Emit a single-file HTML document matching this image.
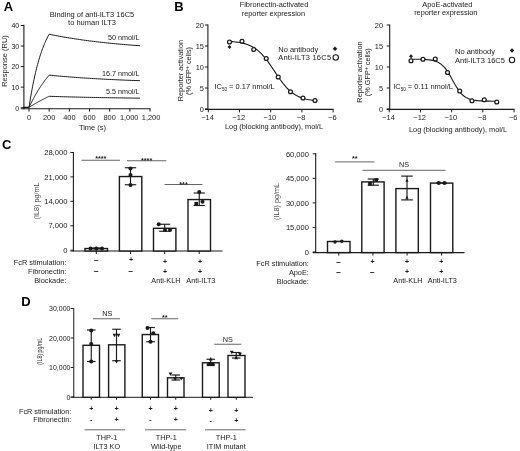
<!DOCTYPE html>
<html><head><meta charset="utf-8"><title>Figure</title>
<style>
html,body{margin:0;padding:0;background:#fff;}
svg{display:block;font-family:"Liberation Sans",Arial,sans-serif;}
</style></head><body>
<svg width="520" height="451" viewBox="0 0 520 451">
<rect x="0" y="0" width="520" height="451" fill="#fff"/>
<text x="3.80" y="11.20" font-size="13" text-anchor="start" fill="#000" font-weight="bold">A</text>
<text x="174.20" y="11.10" font-size="13" text-anchor="start" fill="#000" font-weight="bold">B</text>
<text x="2.10" y="148.70" font-size="13" text-anchor="start" fill="#000" font-weight="bold">C</text>
<text x="21.20" y="305.90" font-size="13" text-anchor="start" fill="#000" font-weight="bold">D</text>
<line x1="23.90" y1="24.80" x2="23.90" y2="109.30" stroke="#1a1a1a" stroke-width="1.1"/>
<line x1="20.80" y1="108.80" x2="150.50" y2="108.80" stroke="#1a1a1a" stroke-width="1.1"/>
<line x1="20.80" y1="107.70" x2="23.90" y2="107.70" stroke="#1a1a1a" stroke-width="1"/>
<text x="19.20" y="110.50" font-size="7" text-anchor="end" fill="#1a1a1a" >0</text>
<line x1="20.80" y1="87.15" x2="23.90" y2="87.15" stroke="#1a1a1a" stroke-width="1"/>
<text x="19.20" y="89.95" font-size="7" text-anchor="end" fill="#1a1a1a" >10</text>
<line x1="20.80" y1="66.60" x2="23.90" y2="66.60" stroke="#1a1a1a" stroke-width="1"/>
<text x="19.20" y="69.40" font-size="7" text-anchor="end" fill="#1a1a1a" >20</text>
<line x1="20.80" y1="46.05" x2="23.90" y2="46.05" stroke="#1a1a1a" stroke-width="1"/>
<text x="19.20" y="48.85" font-size="7" text-anchor="end" fill="#1a1a1a" >30</text>
<line x1="20.80" y1="25.50" x2="23.90" y2="25.50" stroke="#1a1a1a" stroke-width="1"/>
<text x="19.20" y="28.30" font-size="7" text-anchor="end" fill="#1a1a1a" >40</text>
<line x1="29.00" y1="108.80" x2="29.00" y2="111.60" stroke="#1a1a1a" stroke-width="1"/>
<text x="29.00" y="120.10" font-size="7.4" text-anchor="middle" fill="#1a1a1a" >0</text>
<line x1="49.17" y1="108.80" x2="49.17" y2="111.60" stroke="#1a1a1a" stroke-width="1"/>
<text x="49.17" y="120.10" font-size="7.4" text-anchor="middle" fill="#1a1a1a" >200</text>
<line x1="69.34" y1="108.80" x2="69.34" y2="111.60" stroke="#1a1a1a" stroke-width="1"/>
<text x="69.34" y="120.10" font-size="7.4" text-anchor="middle" fill="#1a1a1a" >400</text>
<line x1="89.51" y1="108.80" x2="89.51" y2="111.60" stroke="#1a1a1a" stroke-width="1"/>
<text x="89.51" y="120.10" font-size="7.4" text-anchor="middle" fill="#1a1a1a" >600</text>
<line x1="109.68" y1="108.80" x2="109.68" y2="111.60" stroke="#1a1a1a" stroke-width="1"/>
<text x="109.68" y="120.10" font-size="7.4" text-anchor="middle" fill="#1a1a1a" >800</text>
<line x1="129.85" y1="108.80" x2="129.85" y2="111.60" stroke="#1a1a1a" stroke-width="1"/>
<text x="129.15" y="120.10" font-size="7.4" text-anchor="middle" fill="#1a1a1a" >1,000</text>
<line x1="150.02" y1="108.80" x2="150.02" y2="111.60" stroke="#1a1a1a" stroke-width="1"/>
<text x="151.02" y="120.10" font-size="7.4" text-anchor="middle" fill="#1a1a1a" >1,200</text>
<text x="92.50" y="130.00" font-size="7.5" text-anchor="middle" fill="#1a1a1a" >Time (s)</text>
<text transform="translate(7.40,61.00) rotate(-90)" font-size="7.5" text-anchor="middle" fill="#1a1a1a">Response (RU)</text>
<text x="92.00" y="16.70" font-size="7.5" text-anchor="middle" fill="#1a1a1a" >Binding of anti-ILT3 16C5</text>
<text x="92.00" y="24.80" font-size="7.5" text-anchor="middle" fill="#1a1a1a" >to human ILT3</text>
<polyline fill="none" stroke="#1a1a1a" stroke-width="1" stroke-linejoin="round" points="23.45,107.40 29.00,107.40 29.50,104.16 30.01,101.02 30.51,97.99 31.02,95.06 31.52,92.22 32.03,89.47 32.53,86.81 33.03,84.24 33.54,81.75 34.04,79.34 34.55,77.01 35.05,74.76 35.56,72.58 36.06,70.47 36.56,68.43 37.07,66.45 37.57,64.54 38.08,62.69 38.58,60.90 39.09,59.17 39.59,57.49 40.09,55.87 40.60,54.31 41.10,52.79 41.61,51.32 42.11,49.90 42.61,48.53 43.12,47.20 43.62,45.91 44.13,44.67 44.63,43.46 45.14,42.30 45.64,41.17 46.14,40.08 46.65,39.03 47.15,38.00 47.66,37.02 48.16,36.06 48.67,35.14 49.17,34.24 51.19,34.66 53.20,35.06 55.22,35.45 57.24,35.84 59.26,36.21 61.27,36.58 63.29,36.94 65.31,37.29 67.32,37.63 69.34,37.96 71.36,38.29 73.37,38.60 75.39,38.91 77.41,39.21 79.43,39.51 81.44,39.80 83.46,40.08 85.48,40.35 87.49,40.62 89.51,40.88 91.53,41.14 93.54,41.39 95.56,41.63 97.58,41.87 99.60,42.10 101.61,42.33 103.63,42.55 105.65,42.77 107.66,42.98 109.68,43.19 111.70,43.39 113.71,43.58 115.73,43.77 117.75,43.96 119.77,44.14 121.78,44.32 123.80,44.50 125.82,44.67 127.83,44.83 129.85,45.00 131.87,45.15 133.88,45.31 135.90,45.46 137.92,45.61 139.94,45.75"/>
<polyline fill="none" stroke="#1a1a1a" stroke-width="1" stroke-linejoin="round" points="23.45,107.40 29.00,107.40 29.50,106.34 30.01,105.29 30.51,104.25 31.02,103.24 31.52,102.23 32.03,101.25 32.53,100.27 33.03,99.31 33.54,98.37 34.04,97.44 34.55,96.52 35.05,95.62 35.56,94.73 36.06,93.86 36.56,92.99 37.07,92.14 37.57,91.30 38.08,90.48 38.58,89.67 39.09,88.87 39.59,88.08 40.09,87.30 40.60,86.54 41.10,85.78 41.61,85.04 42.11,84.31 42.61,83.59 43.12,82.88 43.62,82.18 44.13,81.49 44.63,80.81 45.14,80.14 45.64,79.48 46.14,78.83 46.65,78.19 47.15,77.56 47.66,76.94 48.16,76.33 48.67,75.73 49.17,75.14 51.19,75.34 53.20,75.53 55.22,75.72 57.24,75.91 59.26,76.09 61.27,76.26 63.29,76.44 65.31,76.60 67.32,76.77 69.34,76.93 71.36,77.09 73.37,77.24 75.39,77.39 77.41,77.53 79.43,77.68 81.44,77.82 83.46,77.95 85.48,78.08 87.49,78.21 89.51,78.34 91.53,78.46 93.54,78.58 95.56,78.70 97.58,78.82 99.60,78.93 101.61,79.04 103.63,79.14 105.65,79.25 107.66,79.35 109.68,79.45 111.70,79.55 113.71,79.64 115.73,79.73 117.75,79.82 119.77,79.91 121.78,80.00 123.80,80.08 125.82,80.16 127.83,80.24 129.85,80.32 131.87,80.40 133.88,80.47 135.90,80.54 137.92,80.62 139.94,80.69"/>
<polyline fill="none" stroke="#1a1a1a" stroke-width="1" stroke-linejoin="round" points="23.45,107.40 29.00,107.40 29.50,107.08 30.01,106.76 30.51,106.45 31.02,106.13 31.52,105.82 32.03,105.52 32.53,105.21 33.03,104.91 33.54,104.61 34.04,104.31 34.55,104.01 35.05,103.71 35.56,103.42 36.06,103.13 36.56,102.84 37.07,102.56 37.57,102.27 38.08,101.99 38.58,101.71 39.09,101.44 39.59,101.16 40.09,100.89 40.60,100.62 41.10,100.35 41.61,100.08 42.11,99.81 42.61,99.55 43.12,99.29 43.62,99.03 44.13,98.77 44.63,98.52 45.14,98.26 45.64,98.01 46.14,97.76 46.65,97.52 47.15,97.27 47.66,97.02 48.16,96.78 48.67,96.54 49.17,96.30 51.19,96.37 53.20,96.43 55.22,96.50 57.24,96.56 59.26,96.62 61.27,96.68 63.29,96.74 65.31,96.79 67.32,96.85 69.34,96.90 71.36,96.95 73.37,97.00 75.39,97.05 77.41,97.10 79.43,97.15 81.44,97.20 83.46,97.24 85.48,97.29 87.49,97.33 89.51,97.37 91.53,97.41 93.54,97.45 95.56,97.49 97.58,97.53 99.60,97.57 101.61,97.60 103.63,97.64 105.65,97.67 107.66,97.71 109.68,97.74 111.70,97.77 113.71,97.80 115.73,97.84 117.75,97.87 119.77,97.89 121.78,97.92 123.80,97.95 125.82,97.98 127.83,98.01 129.85,98.03 131.87,98.06 133.88,98.08 135.90,98.11 137.92,98.13 139.94,98.15"/>
<text x="139.50" y="40.20" font-size="7.2" text-anchor="end" fill="#1a1a1a" >50 nmol/L</text>
<text x="139.50" y="75.50" font-size="7.2" text-anchor="end" fill="#1a1a1a" >16.7 nmol/L</text>
<text x="139.50" y="93.50" font-size="7.2" text-anchor="end" fill="#1a1a1a" >5.5 nmol/L</text>
<line x1="207.90" y1="24.50" x2="207.90" y2="110.00" stroke="#1a1a1a" stroke-width="1.1"/>
<line x1="204.90" y1="109.40" x2="333.60" y2="109.40" stroke="#1a1a1a" stroke-width="1.2"/>
<line x1="204.90" y1="109.00" x2="207.90" y2="109.00" stroke="#1a1a1a" stroke-width="1"/>
<text x="203.90" y="111.60" font-size="7.4" text-anchor="end" fill="#1a1a1a" >0</text>
<line x1="204.90" y1="88.00" x2="207.90" y2="88.00" stroke="#1a1a1a" stroke-width="1"/>
<text x="203.90" y="90.60" font-size="7.4" text-anchor="end" fill="#1a1a1a" >5</text>
<line x1="204.90" y1="67.00" x2="207.90" y2="67.00" stroke="#1a1a1a" stroke-width="1"/>
<text x="203.90" y="69.60" font-size="7.4" text-anchor="end" fill="#1a1a1a" >10</text>
<line x1="204.90" y1="46.00" x2="207.90" y2="46.00" stroke="#1a1a1a" stroke-width="1"/>
<text x="203.90" y="48.60" font-size="7.4" text-anchor="end" fill="#1a1a1a" >15</text>
<line x1="204.90" y1="25.00" x2="207.90" y2="25.00" stroke="#1a1a1a" stroke-width="1"/>
<text x="203.90" y="27.60" font-size="7.4" text-anchor="end" fill="#1a1a1a" >20</text>
<line x1="208.30" y1="109.40" x2="208.30" y2="112.40" stroke="#1a1a1a" stroke-width="1"/>
<text x="207.50" y="119.80" font-size="7.5" text-anchor="middle" fill="#1a1a1a" >−14</text>
<line x1="239.50" y1="109.40" x2="239.50" y2="112.40" stroke="#1a1a1a" stroke-width="1"/>
<text x="238.70" y="119.80" font-size="7.5" text-anchor="middle" fill="#1a1a1a" >−12</text>
<line x1="270.70" y1="109.40" x2="270.70" y2="112.40" stroke="#1a1a1a" stroke-width="1"/>
<text x="269.90" y="119.80" font-size="7.5" text-anchor="middle" fill="#1a1a1a" >−10</text>
<line x1="301.90" y1="109.40" x2="301.90" y2="112.40" stroke="#1a1a1a" stroke-width="1"/>
<text x="301.10" y="119.80" font-size="7.5" text-anchor="middle" fill="#1a1a1a" >−8</text>
<line x1="333.10" y1="109.40" x2="333.10" y2="112.40" stroke="#1a1a1a" stroke-width="1"/>
<text x="332.30" y="119.80" font-size="7.5" text-anchor="middle" fill="#1a1a1a" >−6</text>
<polyline fill="none" stroke="#1a1a1a" stroke-width="1.1" points="229.50,41.43 230.93,41.53 232.35,41.65 233.78,41.78 235.20,41.94 236.62,42.12 238.05,42.32 239.47,42.55 240.90,42.82 242.32,43.12 243.75,43.47 245.18,43.86 246.60,44.31 248.03,44.82 249.45,45.39 250.88,46.04 252.30,46.76 253.72,47.58 255.15,48.49 256.57,49.50 258.00,50.62 259.43,51.86 260.85,53.21 262.27,54.67 263.70,56.26 265.12,57.96 266.55,59.77 267.98,61.67 269.40,63.66 270.82,65.73 272.25,67.84 273.68,69.99 275.10,72.15 276.52,74.30 277.95,76.42 279.38,78.49 280.80,80.49 282.23,82.40 283.65,84.22 285.07,85.93 286.50,87.52 287.93,89.00 289.35,90.36 290.77,91.60 292.20,92.73 293.62,93.75 295.05,94.67 296.48,95.49 297.90,96.22 299.32,96.88 300.75,97.46 302.18,97.97 303.60,98.42 305.02,98.82 306.45,99.17 307.88,99.48 309.30,99.74 310.73,99.98 312.15,100.19 313.57,100.36 315.00,100.52"/>
<circle cx="229.50" cy="42.00" r="1.95" fill="#fff" stroke="#1a1a1a" stroke-width="1.25"/>
<circle cx="242.00" cy="41.25" r="1.95" fill="#fff" stroke="#1a1a1a" stroke-width="1.25"/>
<circle cx="253.75" cy="49.50" r="1.95" fill="#fff" stroke="#1a1a1a" stroke-width="1.25"/>
<circle cx="266.25" cy="58.50" r="1.95" fill="#fff" stroke="#1a1a1a" stroke-width="1.25"/>
<circle cx="278.25" cy="77.00" r="1.95" fill="#fff" stroke="#1a1a1a" stroke-width="1.25"/>
<circle cx="290.50" cy="91.75" r="1.95" fill="#fff" stroke="#1a1a1a" stroke-width="1.25"/>
<circle cx="303.00" cy="98.00" r="1.95" fill="#fff" stroke="#1a1a1a" stroke-width="1.25"/>
<circle cx="315.00" cy="100.50" r="1.95" fill="#fff" stroke="#1a1a1a" stroke-width="1.25"/>
<polygon points="229.50,45.10 231.40,47.00 229.50,48.90 227.60,47.00" fill="#1a1a1a"/>
<text x="274.00" y="7.20" font-size="7.4" text-anchor="middle" fill="#1a1a1a" >Fibronectin-activated</text>
<text x="273.40" y="15.60" font-size="7.35" text-anchor="middle" fill="#1a1a1a" >reporter expression</text>
<text transform="translate(182.80,70.60) rotate(-90)" font-size="7.3" text-anchor="middle" fill="#1a1a1a">Reporter activation</text>
<text transform="translate(191.30,71.00) rotate(-90)" font-size="7.3" text-anchor="middle" fill="#1a1a1a">(% GFP<tspan font-size="5" dy="-2.5">+</tspan><tspan dy="2.5"> cells)</tspan></text>
<text x="214.50" y="89.30" font-size="7.5" text-anchor="start" fill="#1a1a1a" >IC<tspan font-size="4.5" dy="1.5">50</tspan><tspan dy="-1.5"> = 0.17 nmol/L</tspan></text>
<text x="278.25" y="51.50" font-size="7.5" text-anchor="start" fill="#1a1a1a" >No antibody</text>
<text x="278.25" y="60.30" font-size="7.5" text-anchor="start" fill="#1a1a1a" textLength="52.8">Anti-ILT3 16C5</text>
<polygon points="335.00,46.45 337.30,48.75 335.00,51.05 332.70,48.75" fill="#1a1a1a"/>
<circle cx="335.75" cy="57.50" r="2.7" fill="#fff" stroke="#1a1a1a" stroke-width="1.1"/>
<text x="274.00" y="128.80" font-size="7.35" text-anchor="middle" fill="#1a1a1a" >Log (blocking antibody), mol/L</text>
<line x1="389.70" y1="24.50" x2="389.70" y2="110.00" stroke="#1a1a1a" stroke-width="1.1"/>
<line x1="386.70" y1="109.40" x2="514.55" y2="109.40" stroke="#1a1a1a" stroke-width="1.2"/>
<line x1="386.70" y1="109.00" x2="389.70" y2="109.00" stroke="#1a1a1a" stroke-width="1"/>
<text x="383.10" y="111.60" font-size="7.4" text-anchor="end" fill="#1a1a1a" >0</text>
<line x1="386.70" y1="88.00" x2="389.70" y2="88.00" stroke="#1a1a1a" stroke-width="1"/>
<text x="383.10" y="90.60" font-size="7.4" text-anchor="end" fill="#1a1a1a" >5</text>
<line x1="386.70" y1="67.00" x2="389.70" y2="67.00" stroke="#1a1a1a" stroke-width="1"/>
<text x="383.10" y="69.60" font-size="7.4" text-anchor="end" fill="#1a1a1a" >10</text>
<line x1="386.70" y1="46.00" x2="389.70" y2="46.00" stroke="#1a1a1a" stroke-width="1"/>
<text x="383.10" y="48.60" font-size="7.4" text-anchor="end" fill="#1a1a1a" >15</text>
<line x1="386.70" y1="25.00" x2="389.70" y2="25.00" stroke="#1a1a1a" stroke-width="1"/>
<text x="383.10" y="27.60" font-size="7.4" text-anchor="end" fill="#1a1a1a" >20</text>
<line x1="389.25" y1="109.40" x2="389.25" y2="112.40" stroke="#1a1a1a" stroke-width="1"/>
<text x="388.45" y="119.80" font-size="7.5" text-anchor="middle" fill="#1a1a1a" >−14</text>
<line x1="420.45" y1="109.40" x2="420.45" y2="112.40" stroke="#1a1a1a" stroke-width="1"/>
<text x="419.65" y="119.80" font-size="7.5" text-anchor="middle" fill="#1a1a1a" >−12</text>
<line x1="451.65" y1="109.40" x2="451.65" y2="112.40" stroke="#1a1a1a" stroke-width="1"/>
<text x="450.85" y="119.80" font-size="7.5" text-anchor="middle" fill="#1a1a1a" >−10</text>
<line x1="482.85" y1="109.40" x2="482.85" y2="112.40" stroke="#1a1a1a" stroke-width="1"/>
<text x="482.05" y="119.80" font-size="7.5" text-anchor="middle" fill="#1a1a1a" >−8</text>
<line x1="514.05" y1="109.40" x2="514.05" y2="112.40" stroke="#1a1a1a" stroke-width="1"/>
<text x="513.25" y="119.80" font-size="7.5" text-anchor="middle" fill="#1a1a1a" >−6</text>
<polyline fill="none" stroke="#1a1a1a" stroke-width="1.1" points="411.00,59.18 412.43,59.19 413.86,59.20 415.29,59.21 416.72,59.23 418.15,59.26 419.57,59.29 421.00,59.33 422.43,59.38 423.86,59.44 425.29,59.52 426.72,59.62 428.15,59.76 429.58,59.92 431.01,60.14 432.44,60.40 433.87,60.74 435.30,61.17 436.73,61.70 438.15,62.36 439.58,63.18 441.01,64.17 442.44,65.37 443.87,66.79 445.30,68.46 446.73,70.37 448.16,72.51 449.59,74.86 451.02,77.35 452.45,79.93 453.88,82.52 455.30,85.04 456.73,87.42 458.16,89.60 459.59,91.56 461.02,93.28 462.45,94.75 463.88,95.99 465.31,97.02 466.74,97.87 468.17,98.56 469.60,99.11 471.02,99.56 472.45,99.91 473.88,100.19 475.31,100.42 476.74,100.59 478.17,100.73 479.60,100.84 481.03,100.92 482.46,100.99 483.89,101.04 485.32,101.08 486.75,101.11 488.18,101.14 489.60,101.16 491.03,101.18 492.46,101.19 493.89,101.20 495.32,101.20 496.75,101.21"/>
<circle cx="411.00" cy="60.75" r="1.95" fill="#fff" stroke="#1a1a1a" stroke-width="1.25"/>
<circle cx="423.00" cy="59.25" r="1.95" fill="#fff" stroke="#1a1a1a" stroke-width="1.25"/>
<circle cx="435.25" cy="59.00" r="1.95" fill="#fff" stroke="#1a1a1a" stroke-width="1.25"/>
<circle cx="447.50" cy="72.50" r="1.95" fill="#fff" stroke="#1a1a1a" stroke-width="1.25"/>
<circle cx="459.75" cy="91.00" r="1.95" fill="#fff" stroke="#1a1a1a" stroke-width="1.25"/>
<circle cx="472.00" cy="100.75" r="1.95" fill="#fff" stroke="#1a1a1a" stroke-width="1.25"/>
<circle cx="484.25" cy="99.75" r="1.95" fill="#fff" stroke="#1a1a1a" stroke-width="1.25"/>
<circle cx="496.75" cy="102.00" r="1.95" fill="#fff" stroke="#1a1a1a" stroke-width="1.25"/>
<polygon points="411.00,54.35 412.90,56.25 411.00,58.15 409.10,56.25" fill="#1a1a1a"/>
<text x="447.40" y="6.90" font-size="7.4" text-anchor="middle" fill="#1a1a1a" >ApoE-activated</text>
<text x="445.80" y="15.30" font-size="7.35" text-anchor="middle" fill="#1a1a1a" >reporter expression</text>
<text transform="translate(362.00,72.00) rotate(-90)" font-size="7.3" text-anchor="middle" fill="#1a1a1a">Reporter activation</text>
<text transform="translate(370.40,72.20) rotate(-90)" font-size="7.3" text-anchor="middle" fill="#1a1a1a">(% GFP<tspan font-size="5" dy="-2.5">+</tspan><tspan dy="2.5"> cells)</tspan></text>
<text x="393.25" y="89.30" font-size="7.5" text-anchor="start" fill="#1a1a1a" >IC<tspan font-size="4.5" dy="1.5">50</tspan><tspan dy="-1.5"> = 0.11 nmol/L</tspan></text>
<text x="455.00" y="53.70" font-size="7.5" text-anchor="start" fill="#1a1a1a" >No antibody</text>
<text x="455.00" y="62.50" font-size="7.5" text-anchor="start" fill="#1a1a1a" >Anti-ILT3 16C5</text>
<polygon points="512.00,48.20 514.30,50.50 512.00,52.80 509.70,50.50" fill="#1a1a1a"/>
<circle cx="512.00" cy="60.00" r="2.7" fill="#fff" stroke="#1a1a1a" stroke-width="1.1"/>
<text x="458.00" y="131.50" font-size="7.35" text-anchor="middle" fill="#1a1a1a" >Log (blocking antibody), mol/L</text>
<line x1="73.40" y1="152.10" x2="73.40" y2="251.50" stroke="#1a1a1a" stroke-width="1.1"/>
<line x1="70.40" y1="251.00" x2="222.50" y2="251.00" stroke="#1a1a1a" stroke-width="1.1"/>
<line x1="70.40" y1="250.20" x2="73.40" y2="250.20" stroke="#1a1a1a" stroke-width="1"/>
<text x="67.40" y="252.80" font-size="7.6" text-anchor="end" fill="#1a1a1a" >0</text>
<line x1="70.40" y1="225.77" x2="73.40" y2="225.77" stroke="#1a1a1a" stroke-width="1"/>
<text x="67.40" y="228.37" font-size="7.6" text-anchor="end" fill="#1a1a1a" >7,000</text>
<line x1="70.40" y1="201.34" x2="73.40" y2="201.34" stroke="#1a1a1a" stroke-width="1"/>
<text x="67.40" y="203.94" font-size="7.6" text-anchor="end" fill="#1a1a1a" >14,000</text>
<line x1="70.40" y1="176.91" x2="73.40" y2="176.91" stroke="#1a1a1a" stroke-width="1"/>
<text x="67.40" y="179.51" font-size="7.6" text-anchor="end" fill="#1a1a1a" >21,000</text>
<line x1="70.40" y1="152.48" x2="73.40" y2="152.48" stroke="#1a1a1a" stroke-width="1"/>
<text x="67.40" y="155.08" font-size="7.6" text-anchor="end" fill="#1a1a1a" >28,000</text>
<text transform="translate(38.70,201.00) rotate(-90)" font-size="7.2" text-anchor="middle" fill="#444">(IL8) pg/mL</text>
<rect x="85.00" y="248.55" width="22.50" height="2.45" fill="#fff" stroke="#1a1a1a" stroke-width="1.4"/>
<rect x="119.40" y="176.55" width="22.40" height="74.45" fill="#fff" stroke="#1a1a1a" stroke-width="1.4"/>
<rect x="153.50" y="228.30" width="22.40" height="22.70" fill="#fff" stroke="#1a1a1a" stroke-width="1.4"/>
<rect x="188.00" y="199.55" width="22.50" height="51.45" fill="#fff" stroke="#1a1a1a" stroke-width="1.4"/>
<line x1="96.30" y1="251.00" x2="96.30" y2="254.00" stroke="#1a1a1a" stroke-width="1"/>
<line x1="130.60" y1="251.00" x2="130.60" y2="254.00" stroke="#1a1a1a" stroke-width="1"/>
<line x1="164.70" y1="251.00" x2="164.70" y2="254.00" stroke="#1a1a1a" stroke-width="1"/>
<line x1="199.20" y1="251.00" x2="199.20" y2="254.00" stroke="#1a1a1a" stroke-width="1"/>
<line x1="96.30" y1="247.70" x2="96.30" y2="249.00" stroke="#1a1a1a" stroke-width="0.7"/>
<line x1="92.30" y1="247.70" x2="100.30" y2="247.70" stroke="#1a1a1a" stroke-width="0.7"/>
<line x1="92.30" y1="249.00" x2="100.30" y2="249.00" stroke="#1a1a1a" stroke-width="0.7"/>
<circle cx="90.50" cy="248.60" r="2.05" fill="#1a1a1a" stroke="none" stroke-width="0"/>
<circle cx="96.30" cy="248.60" r="2.05" fill="#1a1a1a" stroke="none" stroke-width="0"/>
<circle cx="102.00" cy="248.60" r="2.05" fill="#1a1a1a" stroke="none" stroke-width="0"/>
<line x1="130.50" y1="167.75" x2="130.50" y2="184.75" stroke="#1a1a1a" stroke-width="1.15"/>
<line x1="124.80" y1="167.75" x2="136.20" y2="167.75" stroke="#1a1a1a" stroke-width="1.15"/>
<line x1="124.80" y1="184.75" x2="136.20" y2="184.75" stroke="#1a1a1a" stroke-width="1.15"/>
<circle cx="130.50" cy="168.50" r="2.05" fill="#1a1a1a" stroke="none" stroke-width="0"/>
<circle cx="130.50" cy="175.00" r="2.05" fill="#1a1a1a" stroke="none" stroke-width="0"/>
<circle cx="130.50" cy="185.00" r="2.05" fill="#1a1a1a" stroke="none" stroke-width="0"/>
<line x1="164.70" y1="224.25" x2="164.70" y2="231.25" stroke="#1a1a1a" stroke-width="1.15"/>
<line x1="159.20" y1="224.25" x2="170.20" y2="224.25" stroke="#1a1a1a" stroke-width="1.15"/>
<line x1="159.20" y1="231.25" x2="170.20" y2="231.25" stroke="#1a1a1a" stroke-width="1.15"/>
<circle cx="158.75" cy="224.25" r="2.05" fill="#1a1a1a" stroke="none" stroke-width="0"/>
<rect x="163.15" y="228.15" width="3.7" height="3.7" fill="#1a1a1a"/>
<circle cx="170.00" cy="230.00" r="2.05" fill="#1a1a1a" stroke="none" stroke-width="0"/>
<line x1="199.25" y1="193.00" x2="199.25" y2="205.50" stroke="#1a1a1a" stroke-width="1.15"/>
<line x1="193.65" y1="193.00" x2="204.85" y2="193.00" stroke="#1a1a1a" stroke-width="1.15"/>
<line x1="193.65" y1="205.50" x2="204.85" y2="205.50" stroke="#1a1a1a" stroke-width="1.15"/>
<circle cx="199.25" cy="192.00" r="2.05" fill="#1a1a1a" stroke="none" stroke-width="0"/>
<rect x="194.40" y="201.90" width="3.7" height="3.7" fill="#1a1a1a"/>
<circle cx="202.50" cy="201.75" r="2.05" fill="#1a1a1a" stroke="none" stroke-width="0"/>
<line x1="81.50" y1="160.25" x2="120.00" y2="160.25" stroke="#666" stroke-width="1"/>
<text x="100.75" y="160.50" font-size="7.2" text-anchor="middle" fill="#1a1a1a" font-weight="bold">****</text>
<line x1="127.00" y1="160.75" x2="166.25" y2="160.75" stroke="#666" stroke-width="1"/>
<text x="146.62" y="162.90" font-size="7.2" text-anchor="middle" fill="#1a1a1a" font-weight="bold">****</text>
<line x1="164.50" y1="184.50" x2="202.50" y2="184.50" stroke="#666" stroke-width="1"/>
<text x="183.50" y="186.70" font-size="7.2" text-anchor="middle" fill="#1a1a1a" font-weight="bold">***</text>
<text x="66.40" y="264.60" font-size="7.35" text-anchor="end" fill="#1a1a1a" >FcR stimulation:</text>
<text x="66.40" y="273.50" font-size="7.35" text-anchor="end" fill="#1a1a1a" >Fibronectin:</text>
<text x="66.40" y="282.70" font-size="7.35" text-anchor="end" fill="#1a1a1a" >Blockade:</text>
<text x="96.50" y="263.45" font-size="8.2" text-anchor="middle" fill="#1a1a1a" font-weight="bold">−</text>
<text x="131.00" y="261.80" font-size="7" text-anchor="middle" fill="#1a1a1a" font-weight="bold">+</text>
<text x="165.00" y="263.70" font-size="7" text-anchor="middle" fill="#1a1a1a" font-weight="bold">+</text>
<text x="200.00" y="263.70" font-size="7" text-anchor="middle" fill="#1a1a1a" font-weight="bold">+</text>
<text x="96.50" y="274.15" font-size="8.2" text-anchor="middle" fill="#1a1a1a" font-weight="bold">−</text>
<text x="131.00" y="274.15" font-size="8.2" text-anchor="middle" fill="#1a1a1a" font-weight="bold">−</text>
<text x="165.00" y="273.80" font-size="7" text-anchor="middle" fill="#1a1a1a" font-weight="bold">+</text>
<text x="200.00" y="273.80" font-size="7" text-anchor="middle" fill="#1a1a1a" font-weight="bold">+</text>
<text x="165.90" y="283.00" font-size="7.3" text-anchor="middle" fill="#1a1a1a" >Anti-KLH</text>
<text x="200.90" y="283.00" font-size="7.3" text-anchor="middle" fill="#1a1a1a" >Anti-ILT3</text>
<line x1="315.70" y1="153.00" x2="315.70" y2="253.10" stroke="#1a1a1a" stroke-width="1.1"/>
<line x1="312.70" y1="252.60" x2="464.50" y2="252.60" stroke="#1a1a1a" stroke-width="1.1"/>
<line x1="312.70" y1="252.00" x2="315.70" y2="252.00" stroke="#1a1a1a" stroke-width="1"/>
<text x="308.90" y="254.90" font-size="7.5" text-anchor="end" fill="#1a1a1a" >0</text>
<line x1="312.70" y1="227.45" x2="315.70" y2="227.45" stroke="#1a1a1a" stroke-width="1"/>
<text x="308.90" y="230.35" font-size="7.5" text-anchor="end" fill="#1a1a1a" >15,000</text>
<line x1="312.70" y1="202.90" x2="315.70" y2="202.90" stroke="#1a1a1a" stroke-width="1"/>
<text x="308.90" y="205.80" font-size="7.5" text-anchor="end" fill="#1a1a1a" >30,000</text>
<line x1="312.70" y1="178.35" x2="315.70" y2="178.35" stroke="#1a1a1a" stroke-width="1"/>
<text x="308.90" y="181.25" font-size="7.5" text-anchor="end" fill="#1a1a1a" >45,000</text>
<line x1="312.70" y1="153.80" x2="315.70" y2="153.80" stroke="#1a1a1a" stroke-width="1"/>
<text x="308.90" y="156.70" font-size="7.5" text-anchor="end" fill="#1a1a1a" >60,000</text>
<text transform="translate(278.70,201.50) rotate(-90)" font-size="7.2" text-anchor="middle" fill="#444">(IL8) pg/mL</text>
<rect x="327.50" y="241.50" width="22.50" height="11.10" fill="#fff" stroke="#1a1a1a" stroke-width="1.4"/>
<rect x="361.80" y="181.90" width="22.30" height="70.70" fill="#fff" stroke="#1a1a1a" stroke-width="1.4"/>
<rect x="395.90" y="188.60" width="22.40" height="64.00" fill="#fff" stroke="#1a1a1a" stroke-width="1.4"/>
<rect x="430.50" y="183.10" width="22.30" height="69.50" fill="#fff" stroke="#1a1a1a" stroke-width="1.4"/>
<line x1="338.75" y1="252.60" x2="338.75" y2="255.60" stroke="#1a1a1a" stroke-width="1"/>
<line x1="372.90" y1="252.60" x2="372.90" y2="255.60" stroke="#1a1a1a" stroke-width="1"/>
<line x1="407.10" y1="252.60" x2="407.10" y2="255.60" stroke="#1a1a1a" stroke-width="1"/>
<line x1="441.60" y1="252.60" x2="441.60" y2="255.60" stroke="#1a1a1a" stroke-width="1"/>
<line x1="333.00" y1="241.30" x2="344.00" y2="241.30" stroke="#1a1a1a" stroke-width="0.8"/>
<circle cx="335.00" cy="242.00" r="1.7" fill="#1a1a1a" stroke="none" stroke-width="0"/>
<circle cx="341.75" cy="241.30" r="1.7" fill="#1a1a1a" stroke="none" stroke-width="0"/>
<line x1="373.30" y1="179.00" x2="373.30" y2="185.20" stroke="#1a1a1a" stroke-width="1.15"/>
<line x1="367.70" y1="179.00" x2="378.90" y2="179.00" stroke="#1a1a1a" stroke-width="1.15"/>
<line x1="367.70" y1="185.20" x2="378.90" y2="185.20" stroke="#1a1a1a" stroke-width="1.15"/>
<rect x="368.15" y="181.90" width="3.7" height="3.7" fill="#1a1a1a"/>
<rect x="374.40" y="178.15" width="3.7" height="3.7" fill="#1a1a1a"/>
<line x1="407.00" y1="176.10" x2="407.00" y2="199.90" stroke="#1a1a1a" stroke-width="1.15"/>
<line x1="401.20" y1="176.10" x2="412.80" y2="176.10" stroke="#1a1a1a" stroke-width="1.15"/>
<line x1="401.20" y1="199.90" x2="412.80" y2="199.90" stroke="#1a1a1a" stroke-width="1.15"/>
<polygon points="407.00,178.86 405.40,181.74 408.60,181.74" fill="#1a1a1a"/>
<polygon points="407.00,195.86 405.40,198.74 408.60,198.74" fill="#1a1a1a"/>
<line x1="436.00" y1="183.00" x2="447.00" y2="183.00" stroke="#1a1a1a" stroke-width="1"/>
<circle cx="438.75" cy="183.00" r="2.05" fill="#1a1a1a" stroke="none" stroke-width="0"/>
<circle cx="444.50" cy="183.00" r="2.05" fill="#1a1a1a" stroke="none" stroke-width="0"/>
<line x1="335.00" y1="161.90" x2="374.50" y2="161.90" stroke="#666" stroke-width="1"/>
<text x="354.75" y="160.90" font-size="7.2" text-anchor="middle" fill="#1a1a1a" font-weight="bold">**</text>
<line x1="362.50" y1="170.30" x2="445.50" y2="170.30" stroke="#666" stroke-width="1"/>
<text x="404.00" y="167.10" font-size="7.2" text-anchor="middle" fill="#1a1a1a" >NS</text>
<text x="308.90" y="265.70" font-size="7.35" text-anchor="end" fill="#1a1a1a" >FcR stimulation:</text>
<text x="308.90" y="275.00" font-size="7.35" text-anchor="end" fill="#1a1a1a" >ApoE:</text>
<text x="308.90" y="283.90" font-size="7.35" text-anchor="end" fill="#1a1a1a" >Blockade:</text>
<text x="338.75" y="265.05" font-size="8.2" text-anchor="middle" fill="#1a1a1a" font-weight="bold">−</text>
<text x="372.50" y="264.30" font-size="7" text-anchor="middle" fill="#1a1a1a" font-weight="bold">+</text>
<text x="407.00" y="264.30" font-size="7" text-anchor="middle" fill="#1a1a1a" font-weight="bold">+</text>
<text x="441.25" y="264.30" font-size="7" text-anchor="middle" fill="#1a1a1a" font-weight="bold">+</text>
<text x="338.75" y="274.85" font-size="8.2" text-anchor="middle" fill="#1a1a1a" font-weight="bold">−</text>
<text x="372.50" y="274.85" font-size="8.2" text-anchor="middle" fill="#1a1a1a" font-weight="bold">−</text>
<text x="407.00" y="273.75" font-size="7" text-anchor="middle" fill="#1a1a1a" font-weight="bold">+</text>
<text x="441.25" y="273.75" font-size="7" text-anchor="middle" fill="#1a1a1a" font-weight="bold">+</text>
<text x="407.90" y="283.00" font-size="7.3" text-anchor="middle" fill="#1a1a1a" >Anti-KLH</text>
<text x="442.40" y="283.00" font-size="7.3" text-anchor="middle" fill="#1a1a1a" >Anti-ILT3</text>
<line x1="73.75" y1="308.00" x2="73.75" y2="397.80" stroke="#1a1a1a" stroke-width="1"/>
<line x1="70.75" y1="397.30" x2="253.00" y2="397.30" stroke="#1a1a1a" stroke-width="1"/>
<line x1="70.75" y1="397.00" x2="73.75" y2="397.00" stroke="#1a1a1a" stroke-width="1"/>
<text x="70.50" y="399.50" font-size="7" text-anchor="end" fill="#1a1a1a" >0</text>
<line x1="70.75" y1="367.50" x2="73.75" y2="367.50" stroke="#1a1a1a" stroke-width="1"/>
<text x="70.50" y="370.00" font-size="7" text-anchor="end" fill="#1a1a1a" >10,000</text>
<line x1="70.75" y1="338.00" x2="73.75" y2="338.00" stroke="#1a1a1a" stroke-width="1"/>
<text x="70.50" y="340.50" font-size="7" text-anchor="end" fill="#1a1a1a" >20,000</text>
<line x1="70.75" y1="308.50" x2="73.75" y2="308.50" stroke="#1a1a1a" stroke-width="1"/>
<text x="70.50" y="311.00" font-size="7" text-anchor="end" fill="#1a1a1a" >30,000</text>
<text transform="translate(42.2,351.25) rotate(-90)" font-size="6.8" text-anchor="middle" fill="#333" textLength="27" lengthAdjust="spacingAndGlyphs">(IL8) pg/mL</text>
<rect x="83.00" y="345.30" width="16.50" height="52.00" fill="#fff" stroke="#1a1a1a" stroke-width="1.4"/>
<rect x="108.60" y="344.80" width="16.30" height="52.50" fill="#fff" stroke="#1a1a1a" stroke-width="1.4"/>
<rect x="142.25" y="334.55" width="16.25" height="62.75" fill="#fff" stroke="#1a1a1a" stroke-width="1.4"/>
<rect x="167.50" y="377.80" width="16.50" height="19.50" fill="#fff" stroke="#1a1a1a" stroke-width="1.4"/>
<rect x="202.50" y="362.80" width="16.70" height="34.50" fill="#fff" stroke="#1a1a1a" stroke-width="1.4"/>
<rect x="228.00" y="355.50" width="17.00" height="41.80" fill="#fff" stroke="#1a1a1a" stroke-width="1.4"/>
<line x1="91.25" y1="397.30" x2="91.25" y2="399.80" stroke="#1a1a1a" stroke-width="1"/>
<line x1="116.50" y1="397.30" x2="116.50" y2="399.80" stroke="#1a1a1a" stroke-width="1"/>
<line x1="150.50" y1="397.30" x2="150.50" y2="399.80" stroke="#1a1a1a" stroke-width="1"/>
<line x1="175.75" y1="397.30" x2="175.75" y2="399.80" stroke="#1a1a1a" stroke-width="1"/>
<line x1="210.75" y1="397.30" x2="210.75" y2="399.80" stroke="#1a1a1a" stroke-width="1"/>
<line x1="236.25" y1="397.30" x2="236.25" y2="399.80" stroke="#1a1a1a" stroke-width="1"/>
<line x1="91.25" y1="330.00" x2="91.25" y2="361.50" stroke="#1a1a1a" stroke-width="1.15"/>
<line x1="86.95" y1="330.00" x2="95.55" y2="330.00" stroke="#1a1a1a" stroke-width="1.15"/>
<line x1="86.95" y1="361.50" x2="95.55" y2="361.50" stroke="#1a1a1a" stroke-width="1.15"/>
<circle cx="91.25" cy="330.50" r="2.05" fill="#1a1a1a" stroke="none" stroke-width="0"/>
<circle cx="91.25" cy="344.00" r="2.05" fill="#1a1a1a" stroke="none" stroke-width="0"/>
<circle cx="91.25" cy="361.50" r="2.05" fill="#1a1a1a" stroke="none" stroke-width="0"/>
<line x1="116.50" y1="329.25" x2="116.50" y2="360.75" stroke="#1a1a1a" stroke-width="1.15"/>
<line x1="112.20" y1="329.25" x2="120.80" y2="329.25" stroke="#1a1a1a" stroke-width="1.15"/>
<line x1="112.20" y1="360.75" x2="120.80" y2="360.75" stroke="#1a1a1a" stroke-width="1.15"/>
<polygon points="114.50,337.21 112.60,333.79 116.40,333.79" fill="#1a1a1a"/>
<polygon points="118.50,337.21 116.60,333.79 120.40,333.79" fill="#1a1a1a"/>
<polygon points="116.50,363.46 114.60,360.04 118.40,360.04" fill="#1a1a1a"/>
<line x1="150.50" y1="327.50" x2="150.50" y2="341.75" stroke="#1a1a1a" stroke-width="1.15"/>
<line x1="146.20" y1="327.50" x2="154.80" y2="327.50" stroke="#1a1a1a" stroke-width="1.15"/>
<line x1="146.20" y1="341.75" x2="154.80" y2="341.75" stroke="#1a1a1a" stroke-width="1.15"/>
<circle cx="147.50" cy="328.00" r="2.05" fill="#1a1a1a" stroke="none" stroke-width="0"/>
<circle cx="153.25" cy="333.25" r="2.05" fill="#1a1a1a" stroke="none" stroke-width="0"/>
<circle cx="150.50" cy="341.75" r="2.05" fill="#1a1a1a" stroke="none" stroke-width="0"/>
<line x1="175.75" y1="375.00" x2="175.75" y2="380.00" stroke="#1a1a1a" stroke-width="1.15"/>
<line x1="171.45" y1="375.00" x2="180.05" y2="375.00" stroke="#1a1a1a" stroke-width="1.15"/>
<line x1="171.45" y1="380.00" x2="180.05" y2="380.00" stroke="#1a1a1a" stroke-width="1.15"/>
<polygon points="170.50,375.96 168.60,372.54 172.40,372.54" fill="#1a1a1a"/>
<polygon points="175.00,380.96 173.10,377.54 176.90,377.54" fill="#1a1a1a"/>
<polygon points="181.25,380.46 179.35,377.04 183.15,377.04" fill="#1a1a1a"/>
<line x1="210.75" y1="359.25" x2="210.75" y2="365.00" stroke="#1a1a1a" stroke-width="1.15"/>
<line x1="206.45" y1="359.25" x2="215.05" y2="359.25" stroke="#1a1a1a" stroke-width="1.15"/>
<line x1="206.45" y1="365.00" x2="215.05" y2="365.00" stroke="#1a1a1a" stroke-width="1.15"/>
<polygon points="210.75,357.04 208.85,360.46 212.65,360.46" fill="#1a1a1a"/>
<rect x="207.15" y="362.40" width="3.7" height="3.7" fill="#1a1a1a"/>
<rect x="210.65" y="362.40" width="3.7" height="3.7" fill="#1a1a1a"/>
<line x1="236.25" y1="352.50" x2="236.25" y2="358.00" stroke="#1a1a1a" stroke-width="1.15"/>
<line x1="231.95" y1="352.50" x2="240.55" y2="352.50" stroke="#1a1a1a" stroke-width="1.15"/>
<line x1="231.95" y1="358.00" x2="240.55" y2="358.00" stroke="#1a1a1a" stroke-width="1.15"/>
<polygon points="231.75,354.21 229.85,350.79 233.65,350.79" fill="#1a1a1a"/>
<polygon points="240.00,356.21 238.10,352.79 241.90,352.79" fill="#1a1a1a"/>
<polygon points="236.25,355.79 234.35,359.21 238.15,359.21" fill="#1a1a1a"/>
<line x1="93.00" y1="318.75" x2="120.00" y2="318.75" stroke="#666" stroke-width="1"/>
<text x="107.30" y="315.90" font-size="7.3" text-anchor="middle" fill="#1a1a1a" >NS</text>
<line x1="151.25" y1="318.75" x2="178.25" y2="318.75" stroke="#666" stroke-width="1"/>
<text x="164.75" y="319.50" font-size="7.2" text-anchor="middle" fill="#1a1a1a" font-weight="bold">**</text>
<line x1="214.25" y1="344.25" x2="241.25" y2="344.25" stroke="#666" stroke-width="1"/>
<text x="227.75" y="342.00" font-size="7.3" text-anchor="middle" fill="#1a1a1a" >NS</text>
<text x="71.25" y="413.80" font-size="7.3" text-anchor="end" fill="#1a1a1a" >FcR stimulation:</text>
<text x="71.25" y="422.00" font-size="7.3" text-anchor="end" fill="#1a1a1a" >Fibronectin:</text>
<text x="91.25" y="411.00" font-size="7" text-anchor="middle" fill="#1a1a1a" font-weight="bold">+</text>
<text x="91.25" y="421.80" font-size="7" text-anchor="middle" fill="#1a1a1a" font-weight="bold">-</text>
<text x="116.50" y="411.00" font-size="7" text-anchor="middle" fill="#1a1a1a" font-weight="bold">+</text>
<text x="116.50" y="421.80" font-size="7" text-anchor="middle" fill="#1a1a1a" font-weight="bold">+</text>
<text x="150.50" y="411.00" font-size="7" text-anchor="middle" fill="#1a1a1a" font-weight="bold">+</text>
<text x="150.50" y="421.80" font-size="7" text-anchor="middle" fill="#1a1a1a" font-weight="bold">-</text>
<text x="175.75" y="411.00" font-size="7" text-anchor="middle" fill="#1a1a1a" font-weight="bold">+</text>
<text x="175.75" y="421.80" font-size="7" text-anchor="middle" fill="#1a1a1a" font-weight="bold">+</text>
<text x="210.75" y="412.50" font-size="7" text-anchor="middle" fill="#1a1a1a" font-weight="bold">+</text>
<text x="210.75" y="422.50" font-size="7" text-anchor="middle" fill="#1a1a1a" font-weight="bold">-</text>
<text x="236.25" y="412.50" font-size="7" text-anchor="middle" fill="#1a1a1a" font-weight="bold">+</text>
<text x="236.25" y="422.50" font-size="7" text-anchor="middle" fill="#1a1a1a" font-weight="bold">+</text>
<line x1="84.50" y1="429.80" x2="125.00" y2="429.80" stroke="#444" stroke-width="0.8"/>
<text x="106.75" y="440.00" font-size="7.3" text-anchor="middle" fill="#1a1a1a" >THP-1</text>
<text x="106.75" y="448.80" font-size="7.3" text-anchor="middle" fill="#1a1a1a" >ILT3 KO</text>
<line x1="145.00" y1="429.80" x2="186.25" y2="429.80" stroke="#444" stroke-width="0.8"/>
<text x="166.25" y="440.00" font-size="7.3" text-anchor="middle" fill="#1a1a1a" >THP-1</text>
<text x="166.25" y="448.80" font-size="7.3" text-anchor="middle" fill="#1a1a1a" >Wild-type</text>
<line x1="205.00" y1="429.80" x2="245.50" y2="429.80" stroke="#444" stroke-width="0.8"/>
<text x="226.25" y="440.00" font-size="7.3" text-anchor="middle" fill="#1a1a1a" >THP-1</text>
<text x="226.25" y="448.80" font-size="7.3" text-anchor="middle" fill="#1a1a1a" >ITIM mutant</text>
</svg>
</body></html>
